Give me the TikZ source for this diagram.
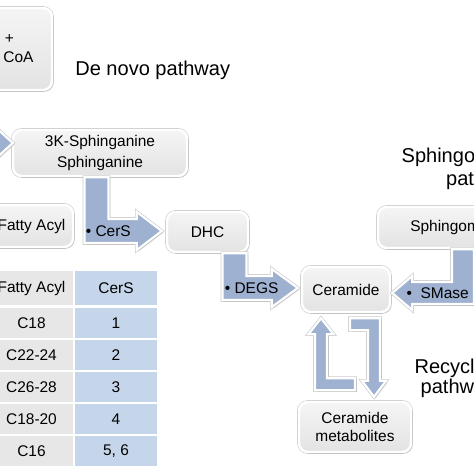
\documentclass[tikz,border=0pt]{standalone}
\usepackage{fontspec}
\setmainfont{Liberation Sans}
\usetikzlibrary{calc,shadows}

\definecolor{arrowblue}{RGB}{158,177,208}
\definecolor{cellgray}{RGB}{231,231,231}
\definecolor{cellblue}{RGB}{198,214,234}

% bent block arrow, down then sideways: start, tip, half width, head half width, head length, dir (1 right, -1 left)
\newcommand{\vharrow}[6]{
  \path[blockarrow] ($(#1)+({-(#6)*#3},0)$) -- ($(#1 |- #2)+({-(#6)*#3},#3)$)
    -- ($(#2)+({-(#6)*#5},#3)$) -- ($(#2)+({-(#6)*#5},#4)$) -- (#2)
    -- ($(#2)+({-(#6)*#5},-#4)$) -- ($(#2)+({-(#6)*#5},-#3)$)
    -- ($(#1 |- #2)+({(#6)*#3},-#3)$) -- ($(#1)+({(#6)*#3},0)$) -- cycle;}
% bent block arrow, sideways then up/down: start, tip, half width, head half width, head length, dx, dy
\newcommand{\hvarrow}[7]{
  \path[blockarrow] ($(#1)+(0,{-(#7)*#3})$) -- ($(#2 |- #1)+({(#6)*#3},{-(#7)*#3})$)
    -- ($(#2)+({(#6)*#3},{-(#7)*#5})$) -- ($(#2)+({(#6)*#4},{-(#7)*#5})$) -- (#2)
    -- ($(#2)+({-(#6)*#4},{-(#7)*#5})$) -- ($(#2)+({-(#6)*#3},{-(#7)*#5})$)
    -- ($(#2 |- #1)+({-(#6)*#3},{(#7)*#3})$) -- ($(#1)+(0,{(#7)*#3})$) -- cycle;}

\begin{document}
\begin{tikzpicture}[
        x=0.02cm, y=-0.02cm,
        box/.style={rounded corners=5pt, top color=black!4, bottom color=black!11,
            draw=white, line width=1.4pt, preaction={draw=black!20, line width=2.1pt},
            drop shadow={shadow xshift=1pt, shadow yshift=-1pt, opacity=0.2},
            align=center, inner sep=0pt, font=\fontsize{8.8}{11}\selectfont},
        blockarrow/.style={fill=arrowblue, draw=white, line width=1.2pt,
            preaction={draw=black!20, line width=2pt},
            drop shadow={shadow xshift=1pt, shadow yshift=-1pt, opacity=0.2}},
        alabel/.style={inner sep=0pt, font=\fontsize{8.8}{10}\selectfont},
        title/.style={inner sep=0pt, align=center, font=\fontsize{11.4}{13}\selectfont},
        cellL/.style={fill=cellgray, minimum width=1.66cm, inner sep=0pt, font=\fontsize{8.8}{10}\selectfont},
        cellR/.style={fill=cellblue, minimum width=1.64cm, inner sep=0pt, font=\fontsize{8.8}{10}\selectfont}
    ]
 \useasboundingbox (0,0) rectangle (474,474);
 \clip (0,0) rectangle (474,474);

 % boxes
 \node[box, minimum width=2.68cm, minimum height=1.64cm, font=\fontsize{8.8}{10.8}\selectfont] (coa) at (-15,49) {Serine +\\Palmitoyl CoA};
 \node[box, minimum width=3.48cm, minimum height=0.92cm, font=\fontsize{8.8}{12}\selectfont] (sph) at (100,153) {3K-Sphinganine\\Sphinganine};
 \node[box, minimum width=1.66cm, minimum height=0.84cm] (fa) at (31.5,226) {Fatty Acyl};
 \node[box, minimum width=1.62cm, minimum height=0.8cm] (dhc) at (207.5,232) {DHC};
 \node[box, minimum width=1.76cm, minimum height=0.9cm] (cer) at (346,289.5) {Ceramide};
 \node[box, minimum width=3.32cm, minimum height=0.82cm] (sm) at (461,227.5) {Sphingomyelin};
 \node[box, minimum width=2.24cm, minimum height=1.0cm, font=\fontsize{8.8}{10}\selectfont] (met) at (355,427) {Ceramide\\metabolites};

 % titles
 \node[title, anchor=base west] (denovo) at (75,75) {De novo pathway};
 \node[title, anchor=north] (smpath) at (483.5,147.5) {Sphingomyelinase\\pathway};
 \node[title, anchor=north, font=\fontsize{11.4}{10.5}\selectfont] (recyc) at (458,358.5) {Recycling\\pathway};

 % arrows
 \coordinate (coaS) at ($(coa.south)+(-25,0)$);
 \coordinate (coaT) at ($(sph.west)+(1,-10)$);
 \vharrow{coaS}{coaT}{12}{20}{22}{1}
 \coordinate (cersS) at ($(sph.south)+(-3.5,0)$);
 \coordinate (cersT) at ($(dhc.west)+(-4,-1)$);
 \vharrow{cersS}{cersT}{12}{19}{25}{1}
 \node[alabel, anchor=west] (cers) at ($(cersS |- cersT)+(-11,0)$) {• CerS};
 \coordinate (degsS) at ($(dhc.south)+(27,0)$);
 \coordinate (degsT) at ($(cer.west)+(-3,-1.5)$);
 \vharrow{degsS}{degsT}{12}{19}{26}{1}
 \node[alabel, anchor=west] (degs) at ($(degsS |- degsT)+(-10,0)$) {• DEGS};
 \coordinate (smS) at ($(sm.south)+(2,0)$);
 \coordinate (smT) at ($(cer.east)+(1,3.5)$);
 \vharrow{smS}{smT}{11}{17}{20}{-1}
 \node[alabel, anchor=west] (smase) at ($(smT)+(14,0)$) {•\ \ SMase};
 \coordinate (upS) at ($(cer.south)+(9,71)$);
 \coordinate (upT) at ($(cer.south)+(-25,5)$);
 \hvarrow{upS}{upT}{6}{12.5}{16}{-1}{-1}
 \coordinate (dnS) at ($(cer.south)+(4,11)$);
 \coordinate (dnT) at ($(met.north)+(19,-4)$);
 \hvarrow{dnS}{dnT}{6}{12}{16}{1}{1}

 % table
 \node[cellL, minimum height=0.68cm] (fa0) at (31.5,288) {Fatty Acyl};
 \node[cellR, minimum height=0.68cm] (cs0) at (116,288) {CerS};
 \foreach \fa/\cs [count=\i] in {C18/1, C22-24/2, C26-28/3, C18-20/4, C16/{5, 6}}
  {
   \node[cellL, minimum height=0.6cm] (fa\i) at (31.5,291+32*\i) {\fa};
   \node[cellR, minimum height=0.6cm] (cs\i) at (116,291+32*\i) {\cs};
  }
\end{tikzpicture}
\end{document}
